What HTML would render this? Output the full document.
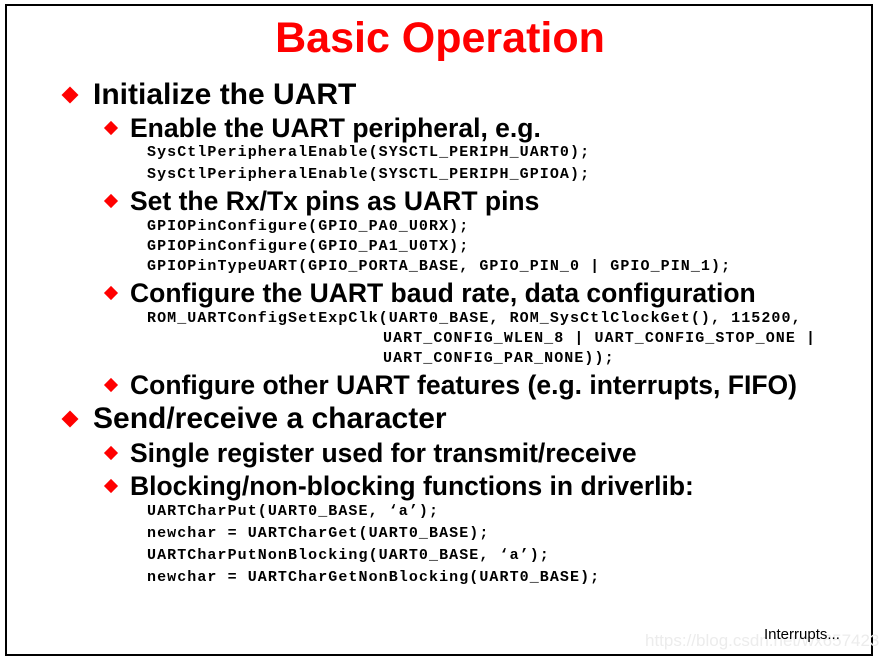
<!DOCTYPE html>
<html><head><meta charset="utf-8"><style>
html,body{margin:0;padding:0;background:#fff;}
body{width:880px;height:660px;position:relative;overflow:hidden;font-family:"Liberation Sans",Arial,sans-serif;}
.frame{position:absolute;left:5px;top:4px;width:864px;height:648px;border:2px solid #000;}
.t{position:absolute;white-space:nowrap;line-height:1;}
.title{left:0;width:880px;text-align:center;top:17px;font-size:43px;font-weight:bold;color:#f00;}
.l1{left:93px;font-size:30px;font-weight:bold;color:#000;}
.l2{left:130px;font-size:26.5px;font-weight:bold;color:#000;}
.c{left:147px;font-family:"Liberation Mono",monospace;font-size:15px;font-weight:bold;letter-spacing:1.07px;color:#000;}
.d1,.d2{position:absolute;background:#f00;transform:rotate(45deg);}
.d1{width:12px;height:12px;}
.d2{width:10px;height:10px;}
</style></head><body>
<div class="frame"></div>
<div class="t title">Basic Operation</div>

<div class="d1" style="left:64px;top:89px"></div>
<div class="t l1" style="top:80px">Initialize the UART</div>

<div class="d2" style="left:106px;top:123px"></div>
<div class="t l2" style="top:115px">Enable the UART peripheral, e.g.</div>
<div class="t c" style="top:145px">SysCtlPeripheralEnable(SYSCTL_PERIPH_UART0);</div>
<div class="t c" style="top:167px">SysCtlPeripheralEnable(SYSCTL_PERIPH_GPIOA);</div>

<div class="d2" style="left:106px;top:196px"></div>
<div class="t l2" style="top:188px">Set the Rx/Tx pins as UART pins</div>
<div class="t c" style="top:219px">GPIOPinConfigure(GPIO_PA0_U0RX);</div>
<div class="t c" style="top:239px">GPIOPinConfigure(GPIO_PA1_U0TX);</div>
<div class="t c" style="top:259px">GPIOPinTypeUART(GPIO_PORTA_BASE, GPIO_PIN_0 | GPIO_PIN_1);</div>

<div class="d2" style="left:106px;top:288px"></div>
<div class="t l2" style="top:280px">Configure the UART baud rate, data configuration</div>
<div class="t c" style="top:311px">ROM_UARTConfigSetExpClk(UART0_BASE, ROM_SysCtlClockGet(), 115200,</div>
<div class="t c" style="top:331px;left:383px">UART_CONFIG_WLEN_8 | UART_CONFIG_STOP_ONE |</div>
<div class="t c" style="top:351px;left:383px">UART_CONFIG_PAR_NONE));</div>

<div class="d2" style="left:106px;top:380px"></div>
<div class="t l2" style="top:372px">Configure other UART features (e.g. interrupts, FIFO)</div>

<div class="d1" style="left:64px;top:413px"></div>
<div class="t l1" style="top:404px">Send/receive a character</div>

<div class="d2" style="left:106px;top:448px"></div>
<div class="t l2" style="top:440px">Single register used for transmit/receive</div>

<div class="d2" style="left:106px;top:481px"></div>
<div class="t l2" style="top:473px">Blocking/non-blocking functions in driverlib:</div>
<div class="t c" style="top:504px">UARTCharPut(UART0_BASE, ‘a’);</div>
<div class="t c" style="top:526px">newchar = UARTCharGet(UART0_BASE);</div>
<div class="t c" style="top:548px">UARTCharPutNonBlocking(UART0_BASE, ‘a’);</div>
<div class="t c" style="top:570px">newchar = UARTCharGetNonBlocking(UART0_BASE);</div>

<div class="t" style="left:645px;top:632px;font-size:17px;color:#ececec;">https://blog.csdn.net/wx6574231</div>
<div class="t" style="left:764px;top:627px;font-size:15px;color:#000;">Interrupts...</div>
</body></html>
